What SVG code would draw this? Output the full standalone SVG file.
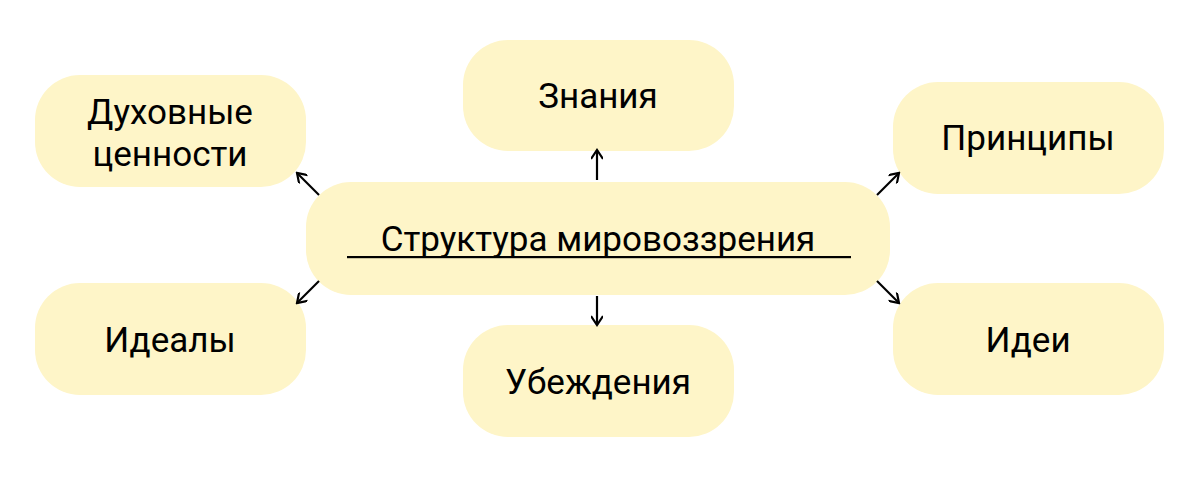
<svg xmlns="http://www.w3.org/2000/svg" width="1197" height="478" viewBox="0 0 1197 478">
<style>
.b{fill:#FEF5C8}
.t{font-family:Roboto,"Liberation Sans",sans-serif;font-size:35px;fill:#000;text-anchor:middle}
.c{stroke:#000;stroke-width:2.2;fill:none}
</style>
<defs><marker id="a" viewBox="0 0 12 12" refX="10" refY="6" markerWidth="12" markerHeight="12" markerUnits="userSpaceOnUse" orient="auto"><path d="M1 0L10 6L1 12" fill="none" stroke="#000" stroke-width="2.2"/></marker></defs>
<rect width="1197" height="478" fill="#fff"/>
<g id="center"><rect class="b" x="306" y="182" width="584" height="113" rx="45"/><text class="t" x="598" y="251">Структура мировоззрения</text><rect x="347" y="256" width="504" height="2.2" fill="#000"/></g>
<g id="znaniya"><rect class="b" x="463" y="40" width="271" height="111" rx="45"/><text class="t" x="598" y="108">Знания</text></g>
<g id="dukhovnye"><rect class="b" x="35" y="75" width="271" height="112" rx="45"/><text class="t" x="170" y="124">Духовные</text><text class="t" x="170" y="166">ценности</text></g>
<g id="printsipy"><rect class="b" x="893" y="82" width="271" height="112" rx="45"/><text class="t" x="1028" y="150">Принципы</text></g>
<g id="idealy"><rect class="b" x="35" y="283" width="271" height="112" rx="45"/><text class="t" x="170" y="352">Идеалы</text></g>
<g id="ubezhdeniya"><rect class="b" x="463" y="325" width="271" height="112" rx="45"/><text class="t" x="598" y="394">Убеждения</text></g>
<g id="idei"><rect class="b" x="893" y="283" width="271" height="112" rx="45"/><text class="t" x="1028" y="352">Идеи</text></g>
<g id="connectors">
<line class="c" x1="597" y1="180" x2="597" y2="150" marker-end="url(#a)"/>
<line class="c" x1="597" y1="296" x2="597" y2="325" marker-end="url(#a)"/>
<line class="c" x1="319" y1="195" x2="297" y2="173" marker-end="url(#a)"/>
<line class="c" x1="319" y1="281" x2="297" y2="303" marker-end="url(#a)"/>
<line class="c" x1="877" y1="195" x2="899" y2="173" marker-end="url(#a)"/>
<line class="c" x1="877" y1="281" x2="899" y2="303" marker-end="url(#a)"/>
</g>
</svg>
